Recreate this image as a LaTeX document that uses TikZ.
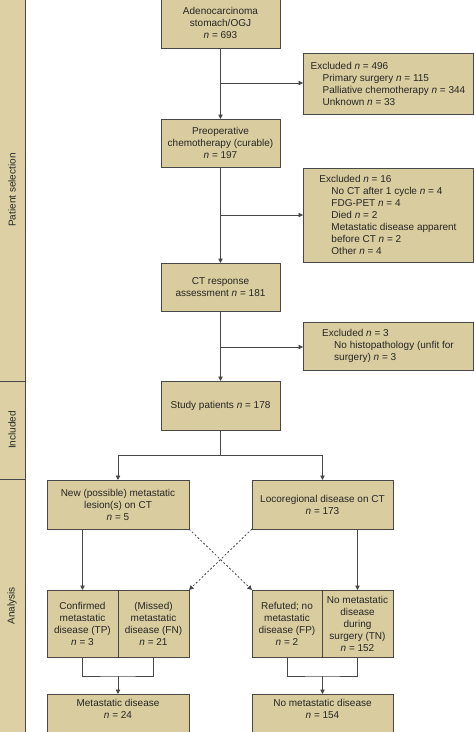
\documentclass[tikz,border=0pt]{standalone}
\usepackage{fontspec}
\setmainfont{Liberation Sans}
\usetikzlibrary{arrows.meta}
\definecolor{boxc}{RGB}{217,204,158}
\definecolor{bandc}{RGB}{220,208,164}
\definecolor{linec}{RGB}{72,72,72}
\newcommand{\fs}{\fontsize{10}{12}\selectfont}
\newcommand{\nn}{\textit{n}}
\begin{document}
\begin{tikzpicture}[x=1pt,y=-1pt,
  box/.style={draw=linec, fill=boxc, line width=0.8pt, inner sep=0pt, outer sep=0pt, align=center, font=\fs, text=black!85},
  ln/.style={draw=linec, line width=0.8pt},
  arr/.style={ln, -{Triangle[length=4.5pt,width=4.5pt]}},
  dotarr/.style={arr, dash pattern=on 2pt off 2pt},
  lab/.style={font=\fs, text=black!85, inner sep=0pt},
  side/.style={lab, rotate=90}]
\useasboundingbox (0,0) rectangle (474,732);
\clip (0,0) rectangle (474,732);

% side band with the three stages
\fill[bandc] (-2,-2) rectangle (25,734);
\draw[ln] (25,-2) -- (25,734);
\draw[ln] (-2,381) -- (25,381);
\draw[ln] (-2,479) -- (25,479);
\node[side] (sel) at (12,190) {Patient selection};
\node[side] (inc) at (12,430) {Included};
\node[side] (ana) at (12,606) {Analysis};

% main column
\node[box, minimum width=119pt, minimum height=50pt] (adeno) at (220.5,23) {Adenocarcinoma\\stomach/OGJ\\\nn{} = 693};
\node[box, minimum width=119pt, minimum height=48pt] (preop) at (220.5,143) {Preoperative\\chemotherapy (curable)\\\nn{} = 197};
\node[box, minimum width=119pt, minimum height=48pt] (ctresp) at (220.5,287) {CT response\\assessment \nn{} = 181};
\node[box, minimum width=119pt, minimum height=49pt] (study) at (220.5,405.5) {Study patients \nn{} = 178};

% exclusions
\node[box, align=left, minimum width=170pt, minimum height=61pt] (ex1) at (388,83.5) {Excluded \nn{} = 496\\
\hspace*{12pt}Primary surgery \nn{} = 115\\
\hspace*{12pt}Palliative chemotherapy \nn{} = 344\\
\hspace*{12pt}Unknown \nn{} = 33};
\node[box, align=left, minimum width=170pt, minimum height=94pt] (ex2) at (388,215) {Excluded \nn{} = 16\\
\hspace*{12pt}No CT after 1 cycle \nn{} = 4\\
\hspace*{12pt}FDG-PET \nn{} = 4\\
\hspace*{12pt}Died \nn{} = 2\\
\hspace*{12pt}Metastatic disease apparent\\
\hspace*{12pt}before CT \nn{} = 2\\
\hspace*{12pt}Other \nn{} = 4};
\node[box, align=left, minimum width=170pt, minimum height=48pt] (ex3) at (388,346) {Excluded \nn{} = 3\\
\hspace*{12pt}No histopathology (unfit for\\
\hspace*{12pt}surgery) \nn{} = 3};

% CT findings
\node[box, minimum width=142pt, minimum height=49pt] (newl) at (118,504.5) {New (possible) metastatic\\lesion(s) on CT\\\nn{} = 5};
\node[box, minimum width=141pt, minimum height=49pt] (loco) at (322.5,504.5) {Locoregional disease on CT\\\nn{} = 173};

% surgical outcome cells
\node[box, minimum width=71pt, minimum height=67pt] (tp) at (82.5,623.5) {Confirmed\\metastatic\\disease (TP)\\\nn{} = 3};
\node[box, minimum width=71pt, minimum height=67pt] (fn) at (153.5,623.5) {(Missed)\\metastatic\\disease (FN)\\\nn{} = 21};
\node[box, minimum width=70pt, minimum height=67pt] (fp) at (287,623.5) {Refuted; no\\metastatic\\disease (FP)\\\nn{} = 2};
\node[box, minimum width=71pt, minimum height=67pt] (tn) at (357.5,623.5) {No metastatic\\disease\\during\\surgery (TN)\\\nn{} = 152};

% final groups
\node[box, minimum width=142pt, minimum height=52pt, anchor=north] (metd) at (118,694) {};
\node[lab, align=center, anchor=north] (metdt) at (118,699.5) {Metastatic disease\\\nn{} = 24};
\node[box, minimum width=141pt, minimum height=52pt, anchor=north] (nomet) at (322.5,694) {};
\node[lab, align=center, anchor=north] (nometdt) at (322.5,699.5) {No metastatic disease\\\nn{} = 154};

% connectors of the main column
\coordinate (b1) at (220.5,83);
\coordinate (b2) at (220.5,215);
\coordinate (b3) at (220.5,347);
\draw[arr] (adeno) -- (preop);
\draw[arr] (b1) -- (b1 -| ex1.west);
\draw[arr] (preop) -- (ctresp);
\draw[arr] (b2) -- (b2 -| ex2.west);
\draw[arr] (ctresp) -- (study);
\draw[arr] (b3) -- (b3 -| ex3.west);

% split into the two CT groups
\coordinate (sp) at (220.5,455);
\draw[ln] (study) -- (sp);
\draw[arr] (sp) -| (newl.north);
\draw[arr] (sp) -| (loco.north);

% to the surgical outcome
\draw[arr] (newl.south -| tp.north) -- (tp.north);
\draw[arr] (loco.south -| tn.north) -- (tn.north);
\draw[dotarr] (newl.south east) -- (fp.north west);
\draw[dotarr] (loco.south west) -- (fn.north east);

% merging into the final groups
\coordinate (jl) at (118,676);
\coordinate (jr) at (322.5,676);
\draw[ln] (tp.south) |- (jl) -| (fn.south);
\draw[arr] (jl) -- (metd.north);
\draw[ln] (fp.south) |- (jr) -| (tn.south);
\draw[arr] (jr) -- (nomet.north);
\end{tikzpicture}
\end{document}
